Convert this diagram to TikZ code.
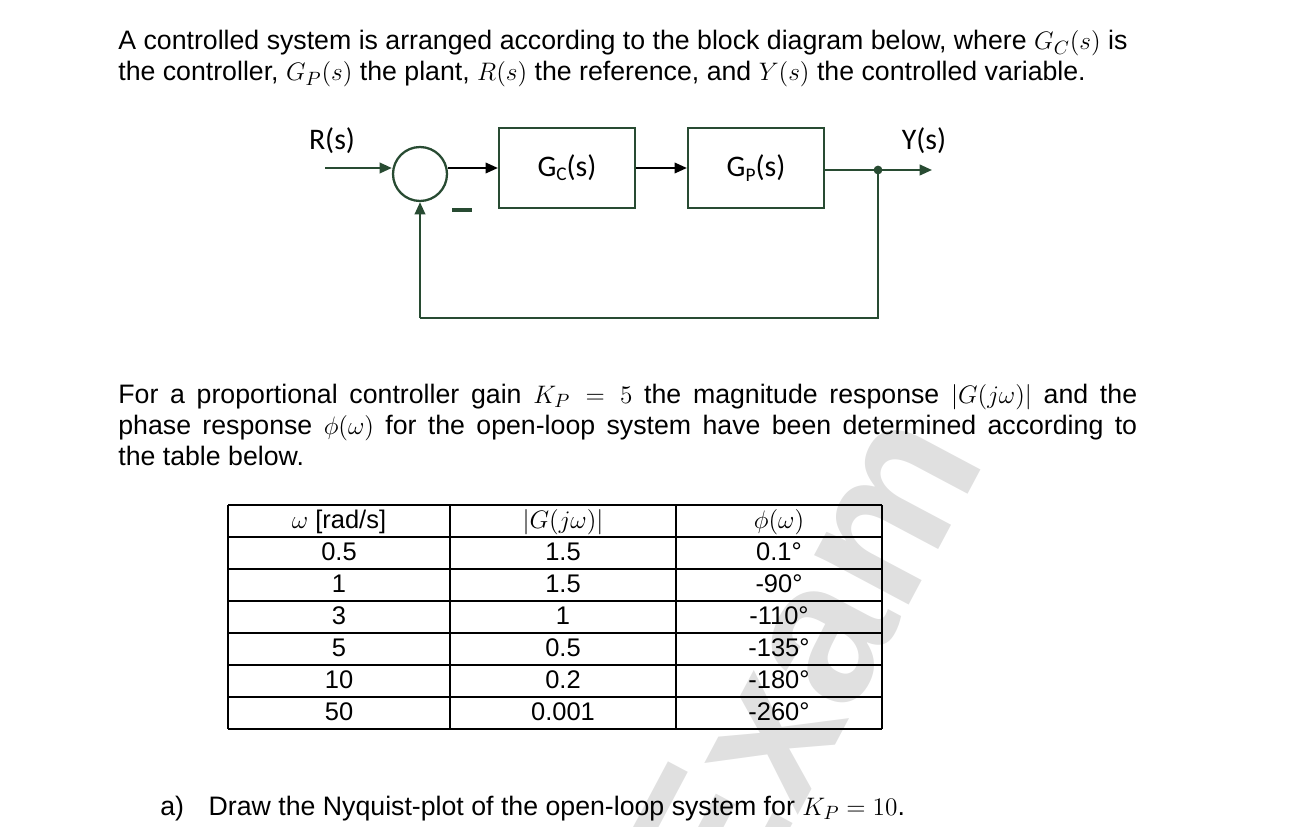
\documentclass[tikz,border=0pt]{standalone}
\usepackage{fontspec}
\setmainfont{Liberation Sans}
\newfontfamily\calfnt{Carlito}
\usetikzlibrary{arrows.meta}
\definecolor{dg}{RGB}{40,75,50}
\begin{document}
\begin{tikzpicture}[x=0.02cm,y=-0.02cm,
  txt/.style={anchor=base west,inner sep=0pt,font=\fontsize{15.2}{18}\selectfont},
  blk/.style={draw=dg,line width=1.3pt,minimum width=2.72cm,minimum height=1.6cm,font=\calfnt\fontsize{17}{20}\selectfont},
  gl/.style={dg,line width=1.3pt},
  ga/.style={gl,-{Triangle[length=7pt,width=6pt]}},
  ba/.style={black,line width=1.1pt,-{Triangle[length=7pt,width=6pt]}},
  cell/.style={font=\fontsize{14.5}{17}\selectfont,inner sep=0pt,anchor=base}]
\useasboundingbox (0,0) rectangle (1290,827);
% watermark
\node[rotate=62,text=black!12,font=\bfseries\fontsize{115}{115}\selectfont] (wm) at (800,665) {Exam};
% paragraph 1
\node[txt] (p1a) at (118,50) {A controlled system is arranged according to the block diagram below, where $G_C(s)$ is};
\node[txt] (p1b) at (118,81) {the controller, $G_P(s)$ the plant, $R(s)$ the reference, and $Y(s)$ the controlled variable.};
% block diagram
\node[circle,draw=dg,line width=1.3pt,minimum size=1.08cm,inner sep=0pt] (sum) at (420,174) {};
\node[blk] (gc) at (567,168) {G\raisebox{-0.3ex}{\fontsize{11}{11}\selectfont C}(s)};
\node[blk] (gp) at (756,168) {G\raisebox{-0.3ex}{\fontsize{11}{11}\selectfont P}(s)};
\coordinate (rin) at (325,168);
\coordinate (br) at (878,170);
\coordinate (yout) at (932,170);
\coordinate (fb1) at (878,318);
\coordinate (fb2) at (420,318);
\node[font=\calfnt\fontsize{17}{20}\selectfont,inner sep=0pt] (rl) at (332,141) {R(s)};
\node[font=\calfnt\fontsize{17}{20}\selectfont,inner sep=0pt] (yl) at (924,141) {Y(s)};
\node[text=dg,inner sep=0pt] (minus) at (462,210) {\rule{11pt}{1.8pt}};
\draw[ga] (rin) -- (rin -| sum.west);
\draw[ba] (sum.east |- gc) -- (gc.west);
\draw[ba] (gc.east) -- (gp.west);
\draw[gl] (gp.east |- br) -- (br);
\draw[ga] (br) -- (yout);
\fill[dg] (br) circle (2.5pt);
\draw[gl] (br) -- (fb1) -- (fb2);
\draw[ga] (fb2) -- (sum.south);
% paragraph 2
\node[txt] (p2a) at (118,403) {\hbox to 20.38cm{For a proportional controller gain $K_P = 5$ the magnitude response $|G(j\omega)|$ and the}};
\node[txt] (p2b) at (118,434) {\hbox to 20.38cm{phase response $\phi(\omega)$ for the open-loop system have been determined according to}};
\node[txt] (p2c) at (118,465) {the table below.};
% table
\foreach \y in {505,537,569,601,633,665,697,729} \draw[line width=0.7pt] (228,\y) -- (882,\y);
\foreach \x in {228,450,676,882} \draw[line width=0.7pt] (\x,505) -- (\x,729);
\node[cell] (h1) at (339,528) {$\omega$ [rad/s]};
\node[cell] (h2) at (563,528) {$|G(j\omega)|$};
\node[cell] (h3) at (779,528) {$\phi(\omega)$};
\foreach \w/\g/\p [count=\i] in {0.5/1.5/0.1°,1/1.5/-90°,3/1/-110°,5/0.5/-135°,10/0.2/-180°,50/0.001/-260°}{
  \node[cell] (a\i) at (339,528+32*\i) {\w};
  \node[cell] (b\i) at (563,528+32*\i) {\g};
  \node[cell] (c\i) at (779,528+32*\i) {\p};
}
\node[txt] (qa) at (160,815) {a)\hspace{14pt}Draw the Nyquist-plot of the open-loop system for $K_P = 10$.};
\end{tikzpicture}
\end{document}
